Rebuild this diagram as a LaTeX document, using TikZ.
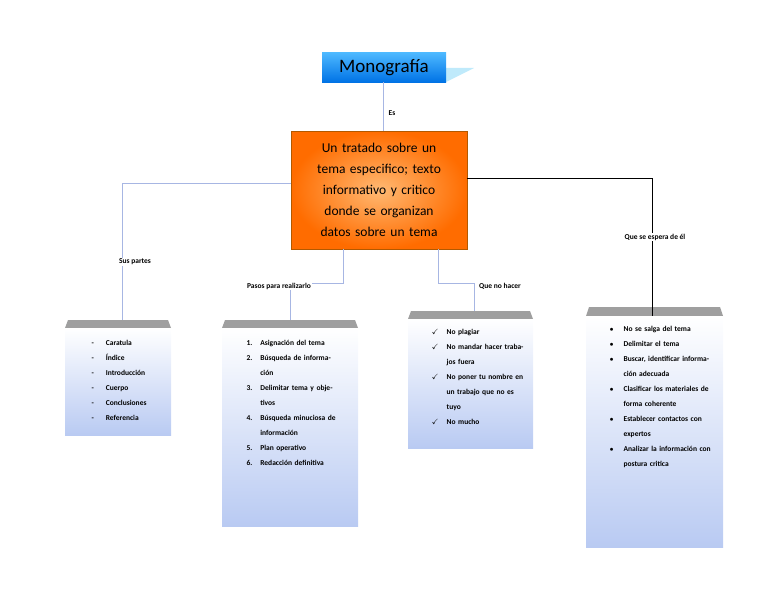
\documentclass[tikz,border=0pt]{standalone}
\usepackage{fontspec}
\setmainfont{Carlito}
\usepackage{amssymb}
\begin{document}
\begin{tikzpicture}[x=1pt,y=-1pt,
  conn/.style={draw=cyan!40!blue!35!white,line width=0.8pt},
  lbl/.style={font=\bfseries\fontsize{7.5}{9}\selectfont},
  listbox/.style={top color=white,bottom color=cyan!30!blue!25!white!90!gray,draw=none},
  trap/.style={fill=gray!75},
  itm/.style={font=\bfseries\fontsize{7.5}{15}\selectfont,align=left,anchor=north west,text width=#1}]
\useasboundingbox (0,0) rectangle (768,594);
% title
\fill[cyan!25!white] (440,68) -- (474,68) -- (446,82) -- cycle;
\node[draw=none,top color=cyan!60!blue!70!white,bottom color=cyan!50!blue!90!black,minimum width=124pt,minimum height=29pt,font=\fontsize{19}{22}\selectfont] (title) at (384,67.5) {Monografía};
% main
\node[draw=orange!70!black,inner color=orange!55!white,outer color=orange!85!red,minimum width=176pt,minimum height=118pt,align=center,font=\fontsize{13.5}{21}\selectfont,text width=168pt] (main) at (379,190) {Un tratado sobre un\\tema especifico; texto\\informativo y critico\\donde se organizan\\datos sobre un tema};
\draw[conn] (383,82) -- (383,131);
\node[lbl] (es) at (392,113) {Es};
% boxes
\fill[trap] (68,320) -- (168,320) -- (171,328) -- (65,328) -- cycle;
\fill[listbox] (65,328) rectangle (171,435);
\fill[trap] (225,320) -- (355,320) -- (358,328) -- (222,328) -- cycle;
\fill[listbox] (222,328) rectangle (358,526);
\fill[trap] (411,311) -- (530,311) -- (533,319) -- (408,319) -- cycle;
\fill[listbox] (408,319) rectangle (533,448);
\fill[trap] (589,307) -- (720,307) -- (723,316) -- (586,316) -- cycle;
\fill[listbox] (586,316) rectangle (723,547);
% connectors
\coordinate (b1) at (122,320); \coordinate (b2) at (290,320);
\coordinate (b3) at (474,311); \coordinate (b4) at (652,316);
\draw[conn] (main.west |- 0,183) -- (122,183) -- (b1);
\draw[conn] (343,249) -- (343,283) -- (290,283) -- (b2);
\draw[conn] (438,249) -- (438,283) -- (474,283) -- (b3);
\draw[line width=0.8pt] (main.east |- 0,178) -- (652,178) -- (b4);
\node[lbl,fill=white,inner sep=1pt] (l1) at (135,262) {Sus partes};
\node[lbl,fill=white,inner sep=1pt] (l2) at (279,286) {Pasos para realizarlo};
\node[lbl,fill=white,inner sep=1pt] (l3) at (500,286) {Que no hacer};
\node[lbl,fill=white,inner sep=1pt] (l4) at (655,237) {Que se espera de él};
% lists
\node[itm=60pt] (t1) at (88,331) {%
\begin{tabular}{@{}l@{\hspace{12pt}}l@{}}
-&Caratula\\-&Índice\\-&Introducción\\-&Cuerpo\\-&Conclusiones\\-&Referencia
\end{tabular}};
\node[itm=120pt] (t2) at (243,331) {%
\begin{tabular}{@{}l@{\hspace{8pt}}p{78pt}@{}}
1.&Asignación del tema\\2.&Búsqueda de información\\3.&Delimitar tema y objetivos\\4.&Búsqueda minuciosa de información\\5.&Plan operativo\\6.&Redacción definitiva
\end{tabular}};
\node[itm=120pt] (t3) at (428,320) {%
\begin{tabular}{@{}l@{\hspace{8pt}}p{80pt}@{}}
$\checkmark$&No plagiar\\$\checkmark$&No mandar hacer trabajos fuera\\$\checkmark$&No poner tu nombre en un trabajo que no es tuyo\\$\checkmark$&No mucho
\end{tabular}};
\node[itm=125pt] (t4) at (606,317) {%
\begin{tabular}{@{}l@{\hspace{10pt}}p{88pt}@{}}
$\bullet$&No se salga del tema\\$\bullet$&Delimitar el tema\\$\bullet$&Buscar, identificar información adecuada\\$\bullet$&Clasificar los materiales de forma coherente\\$\bullet$&Establecer contactos con expertos\\$\bullet$&Analizar la información con postura critica
\end{tabular}};
\end{tikzpicture}
\end{document}
